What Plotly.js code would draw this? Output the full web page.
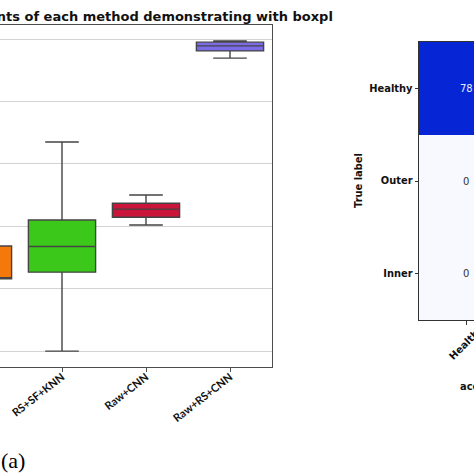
<!DOCTYPE html>
<html>
<head>
<meta charset="utf-8">
<script src="https://cdn.plot.ly/plotly-3.0.1.min.js"></script>
<style>
  html, body { margin: 0; padding: 0; background: #ffffff; }
  body { width: 474px; height: 474px; position: relative; overflow: hidden; }
  #leftWrap { position: absolute; left: 0; top: 0; width: 333px; height: 474px; overflow: hidden; }
  #boxplot { position: absolute; left: -150px; top: 0; width: 600px; height: 474px; }
  #rightWrap { position: absolute; left: 333px; top: 0; width: 141px; height: 474px; overflow: hidden; background: #ffffff; }
  #cm { position: absolute; left: 0; top: 0; width: 500px; height: 474px; }
</style>
</head>
<body>
<div id="leftWrap"><div id="boxplot"></div></div>
<div id="rightWrap"><div id="cm"></div></div>
<script>
// ---- accuracy (%) summary per method ----
const methods    = ["RS+SF+SVM", "RS+SF+KNN", "Raw+CNN", "Raw+RS+CNN"];
const lowerFence = [92.32, 90.00, 94.04, 99.39];
const q1Values   = [92.32, 92.53, 94.29, 99.62];
const medians    = [92.32, 93.35, 94.55, 99.78];
const q3Values   = [93.37, 94.20, 94.74, 99.90];
const upperFence = [93.37, 96.70, 95.00, 99.94];
const boxColors  = ["#f5780a", "#3cc81a", "#c9153a", "#7b6be8"];
const yTicks     = [90, 92, 94, 96, 98, 100];

// ---- confusion matrix ----
const classNames = ["Healthy", "Outer", "Inner"];
const cmValues = [
  [78, 0, 0],
  [0, 78, 0],
  [0, 0, 78]
];
const xLabelLines = ["Predicted label", "accuracy=1.0000; misclass=0.0000"];

const plotConfig = { staticPlot: true, displayModeBar: false };

// ---------- box plot ----------
const boxTraces = methods.map((m, i) => ({
  type: "box",
  x: [m],
  q1: [q1Values[i]],
  median: [medians[i]],
  q3: [q3Values[i]],
  lowerfence: [lowerFence[i]],
  upperfence: [upperFence[i]],
  fillcolor: boxColors[i],
  line: { color: "#444444", width: 1.4 },
  whiskerwidth: 0.5,
  showlegend: false,
  hoverinfo: "skip"
}));

const boxLayout = {
  width: 600,
  height: 474,
  margin: { l: 86, r: 178, t: 25, b: 107 },
  paper_bgcolor: "#ffffff",
  plot_bgcolor: "#ffffff",
  font: { family: "DejaVu Sans", color: "#111111" },
  boxgap: 0.2,
  boxgroupgap: 0,
  title: {
    text: "Accuracy of experiments of each method demonstrating with boxplot",
    font: { family: "DejaVu Sans", size: 13, weight: "bold", color: "#111111" },
    xref: "container", x: 498 / 600, xanchor: "right",
    yref: "container", y: 1 - 16 / 474, yanchor: "middle"
  },
  xaxis: {
    type: "category",
    categoryorder: "array",
    categoryarray: methods,
    range: [-0.5, 3.5],
    showgrid: false,
    showline: true, mirror: true, linecolor: "#4d4d4d", linewidth: 1,
    ticks: "outside", ticklen: 3.5, tickcolor: "#4d4d4d",
    tickangle: -38,
    ticklabelstandoff: -5,
    tickfont: { family: "Lato", size: 11, weight: "bold", color: "#111111" }
  },
  yaxis: {
    range: [89.49, 100.45],
    tickvals: yTicks,
    showgrid: true, gridcolor: "#d3d3d3", gridwidth: 1,
    zeroline: false,
    showline: true, mirror: true, linecolor: "#4d4d4d", linewidth: 1,
    ticks: "outside", ticklen: 3.5, tickcolor: "#4d4d4d",
    tickfont: { size: 10 }
  },
  annotations: [{
    text: "(a)",
    xref: "paper", yref: "paper",
    x: (149 - 86) / 336, xanchor: "left",
    y: (367 - 460) / 342, yanchor: "middle",
    showarrow: false,
    font: { family: "Liberation Serif", size: 22, color: "#000000" }
  }]
};

Plotly.newPlot("boxplot", boxTraces, boxLayout, plotConfig);

// ---------- confusion matrix ----------
const zMax = Math.max(...cmValues.flat());
const cellNotes = [];
cmValues.forEach((row, r) => {
  row.forEach((v, c) => {
    cellNotes.push({
      x: classNames[c], y: classNames[r],
      xref: "x", yref: "y",
      text: String(v),
      showarrow: false,
      font: { family: "DejaVu Sans", size: 10, color: v > zMax / 2 ? "#e6ecff" : "#333333" }
    });
  });
});

// rotated column labels, centred under each tick
classNames.forEach((name, c) => {
  cellNotes.push({
    x: name, xref: "x",
    y: (320 - 342) / 278, yref: "paper",
    xanchor: "center", yanchor: "middle",
    textangle: -45,
    text: name,
    showarrow: false,
    font: { family: "DejaVu Sans", size: 10, weight: "bold", color: "#111111" }
  });
});

// axis titles
cellNotes.push({
  text: "True label",
  xref: "paper", yref: "paper",
  x: (25 - 86) / 282, y: 0.5,
  xanchor: "center", yanchor: "middle",
  textangle: -90,
  showarrow: false,
  font: { family: "DejaVu Sans", size: 9.9, weight: "bold", color: "#111111" }
});
xLabelLines.forEach((line, k) => {
  cellNotes.push({
    text: line,
    xref: "paper", yref: "paper",
    x: k === 0 ? 0.5 : (125 - 86) / 282,
    xanchor: k === 0 ? "center" : "left",
    y: (320 - (374 + 12 * k)) / 278, yanchor: "middle",
    showarrow: false,
    font: { family: "DejaVu Sans", size: 9.9, weight: "bold", color: "#111111" }
  });
});

const cmTrace = {
  type: "heatmap",
  x: classNames,
  y: classNames,
  z: cmValues,
  zmin: 0, zmax: zMax,
  colorscale: [[0, "#f7f9fe"], [1, "#0626d6"]],
  showscale: false,
  hoverinfo: "skip"
};

const cmLayout = {
  width: 500,
  height: 474,
  margin: { l: 86, r: 132, t: 42, b: 154 },
  paper_bgcolor: "#ffffff",
  plot_bgcolor: "#ffffff",
  font: { family: "DejaVu Sans", color: "#111111" },
  xaxis: {
    type: "category",
    showticklabels: false,
    showgrid: false, zeroline: false,
    showline: true, mirror: true, linecolor: "#333333", linewidth: 1,
    ticks: "outside", ticklen: 3.5, tickcolor: "#333333"
  },
  yaxis: {
    type: "category",
    autorange: "reversed",
    showgrid: false, zeroline: false,
    showline: true, mirror: true, linecolor: "#333333", linewidth: 1,
    ticks: "outside", ticklen: 3.5, tickcolor: "#333333",
    tickfont: { family: "DejaVu Sans", size: 9.9, weight: "bold", color: "#111111" }
  },
  annotations: cellNotes
};

Plotly.newPlot("cm", [cmTrace], cmLayout, plotConfig);
</script>
</body>
</html>
